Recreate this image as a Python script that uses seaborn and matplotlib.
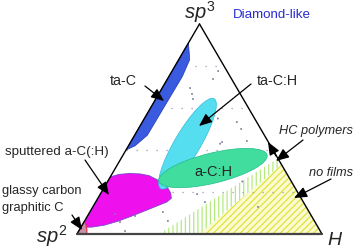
import numpy as np
import pandas as pd
import matplotlib
matplotlib.use("Agg")
import matplotlib.pyplot as plt
import seaborn as sns
from matplotlib.patches import Polygon, Ellipse

sns.set_theme(style="white")
plt.rcParams["font.family"] = ["Liberation Sans", "DejaVu Sans"]
plt.rcParams["mathtext.fontset"] = "custom"
plt.rcParams["mathtext.it"] = "Liberation Sans:italic"
plt.rcParams["mathtext.rm"] = "Liberation Sans"
plt.rcParams["hatch.linewidth"] = 0.9

# ---------------- data: ternary compositions (sp3 fraction, H fraction) -------------
ta_c_sp3 = [0.91, 0.83, 0.75, 0.47, 0.42, 0.40]
ta_c_h = [0.00, 0.045, 0.055, 0.052, 0.027, 0.00]

sput_sp3 = [0.272, 0.284, 0.288, 0.286, 0.278, 0.262, 0.245, 0.222, 0.195, 0.170,
            0.152, 0.135, 0.112, 0.085, 0.060, 0.042, 0.033, 0.032]
sput_h = [0.000, 0.030, 0.070, 0.115, 0.155, 0.190, 0.225, 0.258, 0.285, 0.300,
          0.290, 0.262, 0.225, 0.180, 0.135, 0.090, 0.045, 0.004]

glassy_sp3 = [0.0, 0.0, 0.02, 0.043, 0.062]
glassy_h = [0.0, 0.04, 0.03, 0.015, 0.0]

hc_poly_sp3 = [0.0, 0.36, 0.33, 0.0]
hc_poly_h = [0.335, 0.64, 0.67, 0.50]

no_film_sp3 = [0.0, 0.33, 0.0]
no_film_h = [0.50, 0.67, 1.00]

# ellipses: centre (sp3, H), length, width (fraction units), angle (deg)
tach_centre = (0.43, 0.236)
tach_size = (0.43, 0.105, 59.6)
ach_centre = (0.314, 0.398)
ach_size = (0.455, 0.124, 13.8)

grid_sp3 = [0.2, 0.4, 0.6, 0.8]

pts_sp3 = [0.776, 0.738, 0.695, 0.643, 0.095, 0.057, 0.014, 0.086, 0.105, 0.062,
           0.19, 0.152, 0.43, 0.129, 0.667, 0.533, 0.438, 0.443, 0.55, 0.50, 0.30, 0.25]
pts_h = [0.188, 0.186, 0.114, 0.152, 0.108, 0.147, 0.189, 0.194, 0.298, 0.34,
         0.395, 0.446, 0.369, 0.674, 0.136, 0.386, 0.373, 0.472, 0.30, 0.42, 0.45, 0.55]

S3 = np.sqrt(3) / 2


def tern(sp3, h):
    sp3 = np.asarray(sp3, float)
    h = np.asarray(h, float)
    return h + sp3 / 2, sp3 * S3


def P(px, py):
    # layout helper: reference pixel position -> data coordinates
    return ((px - 77) / 245, (235 - py) / 242.5)


fig = plt.figure(figsize=(3.54, 2.51), dpi=100)
ax = fig.add_axes([0, 0, 1, 1])
ax.set_xlim(P(0, 0)[0], P(354, 0)[0])
ax.set_ylim(P(0, 251)[1], P(0, 0)[1])
ax.axis("off")


def poly(sp3, h, **kw):
    x, y = tern(sp3, h)
    ax.add_patch(Polygon(np.column_stack([x, y]), closed=True, **kw))


# hatched regions
poly(hc_poly_sp3, hc_poly_h, facecolor="white", edgecolor="#b4ea80", hatch="||||", lw=0, zorder=1)
poly(no_film_sp3, no_film_h, facecolor="#fbfbd2", edgecolor="#e2e23c", hatch="/////", lw=0, zorder=1)

# dotted grid
for s in grid_sp3:
    x, y = tern([s, s], [0, 1 - s])
    ax.plot(x, y, ls=(0, (1, 7)), color="#9a9ab8", lw=0.9, zorder=1.5)

# filled regions
poly(sput_sp3, sput_h, facecolor="#ee11ee", edgecolor="#7744cc", lw=0.6, zorder=2,
     joinstyle="round")
poly(ta_c_sp3, ta_c_h, facecolor="#3a5ae0", edgecolor="#2238aa", lw=0.5, zorder=2)
poly(glassy_sp3, glassy_h, facecolor="#c492ad", edgecolor="#ee3344", lw=0.9, zorder=2)

cx, cy = tern(*tach_centre)
ax.add_patch(Ellipse((cx, cy), tach_size[0], tach_size[1], angle=tach_size[2],
                     facecolor="#55ddf0", edgecolor="#33bbdd", lw=0.5, zorder=3))
cx, cy = tern(*ach_centre)
ax.add_patch(Ellipse((cx, cy), ach_size[0], ach_size[1], angle=ach_size[2],
                     facecolor="#40dd9e", edgecolor="#22bb88", lw=0.5, zorder=4))

# scattered data points
px_, py_ = tern(pts_sp3, pts_h)
sns.scatterplot(x=px_, y=py_, ax=ax, s=2, color="#8080a0", edgecolor="none", zorder=5, legend=False)

# triangle edges
xl, yl = tern([0, 1], [0, 0])
ax.plot(xl, yl, color="black", lw=1.0, zorder=6)
xr, yr = tern([1, 0], [0, 1])
ax.plot(xr, yr, color="black", lw=1.0, zorder=6)
xb, yb = tern([0, 0], [0, 1])
ax.plot(xb, yb, color="#444444", lw=1.6, zorder=6)

# vertex labels
ax.text(*P(200, 12), r"$sp^{\mathit{3}}$", fontsize=14.5, ha="center", va="center")
ax.text(*P(52, 236), r"$sp^{\mathit{2}}$", fontsize=14.5, ha="center", va="center")
ax.text(*P(334, 241), "H", fontsize=14, style="italic", ha="center", va="center")

ax.text(*P(272, 15), "Diamond-like", fontsize=9.6, color="#2a2ad0", ha="center", va="center")
ax.text(*P(123, 81), "ta-C", fontsize=10.3, ha="center", va="center")
ax.text(*P(277, 81), "ta-C:H", fontsize=10.3, ha="center", va="center")
ax.text(*P(213, 172), "a-C:H", fontsize=10.5, ha="center", va="center", zorder=8)
ax.text(*P(5, 152), "sputtered a-C(:H)", fontsize=9.6, ha="left", va="center")
ax.text(*P(2, 191), "glassy carbon", fontsize=9.3, ha="left", va="center")
ax.text(*P(2, 208), "graphitic C", fontsize=9.3, ha="left", va="center")
ax.text(*P(316, 131), "HC polymers", fontsize=9.2, style="italic", ha="center", va="center")
ax.text(*P(331, 173), "no films", fontsize=9.2, style="italic", ha="center", va="center")

arrow = dict(arrowstyle="-|>,head_length=0.6,head_width=0.25", color="black", lw=0.9,
             mutation_scale=13, shrinkA=0, shrinkB=0)
arrows = [((145, 87), (164, 102)),
          ((251, 85), (199, 127)),
          ((85, 161), (109, 196)),
          ((72, 216), (82, 231)),
          ((303, 141), (276, 162)),
          ((331, 180), (294, 199)),
          ((276, 157), (268, 143))]
for (sx, sy), (ex, ey) in arrows:
    ax.annotate("", xy=P(ex, ey), xytext=P(sx, sy), arrowprops=arrow, zorder=7)

fig.savefig("out.png", dpi=100)
